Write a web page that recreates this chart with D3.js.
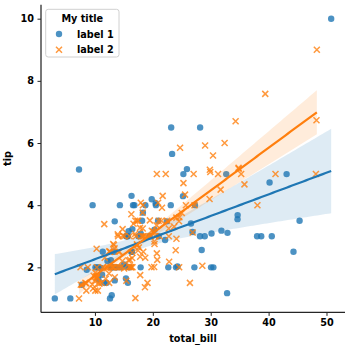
<!DOCTYPE html>
<html lang="en">
<head>
<meta charset="utf-8">
<title>tips lmplot</title>
<script src="https://cdn.jsdelivr.net/npm/d3@7"></script>
<style>
  body { margin: 0; background: #fff; }
  text { font-family: "DejaVu Sans", sans-serif; font-weight: bold; }
</style>
</head>
<body>
<script>
// label 1 (smokers)
var bill1 = [38.01,11.24,20.29,13.81,11.02,18.29,3.07,15.01,26.86,25.28,17.92,19.44,32.68,28.97,5.75,16.32,40.17,27.28,12.03,21.01,
  11.35,15.38,44.3,22.42,15.36,20.49,25.21,14.31,16.0,17.51,10.59,10.63,50.81,15.81,7.25,31.85,16.82,32.9,17.89,14.48,
  9.6,34.63,34.65,23.33,45.35,23.17,40.55,20.9,30.46,18.15,23.1,15.69,19.81,28.44,15.48,16.58,10.34,43.11,13.0,13.51,
  18.71,12.74,13.0,16.4,20.53,16.47,26.59,38.73,24.27,12.76,30.06,25.89,13.27,28.17,12.9,28.15,11.59,7.74,30.14,12.16,
  13.42,8.58,13.42,16.27,10.09,22.12,24.01,15.69,15.53,12.6,32.83,27.18,22.67];
var tip1 = [3.0,1.76,3.21,2.0,1.98,3.76,1.0,2.09,3.14,5.0,3.08,3.0,5.0,3.0,1.0,4.3,4.73,4.0,1.5,3.0,
  2.5,3.0,2.5,3.48,1.64,4.06,4.29,4.0,2.0,3.0,1.61,2.0,10.0,3.16,5.15,3.18,4.0,3.11,2.0,2.0,
  4.0,3.55,3.68,5.65,3.5,6.5,3.0,3.5,2.0,3.5,4.0,1.5,4.19,2.56,2.02,4.0,2.0,5.0,2.0,2.0,
  4.0,2.01,2.0,2.5,4.0,3.23,3.41,3.0,2.03,2.23,2.0,5.16,2.5,6.5,1.1,3.0,1.5,1.44,3.09,2.2,
  3.48,1.92,1.58,2.5,2.0,2.88,2.0,3.0,3.0,1.0,1.17,2.0,2.0];

// label 2 (non-smokers)
var bill2 = [16.99,10.34,21.01,23.68,24.59,25.29,8.77,26.88,15.04,14.78,10.27,35.26,15.42,18.43,14.83,21.58,10.33,16.29,16.97,20.65,
  17.92,20.29,15.77,39.42,19.82,17.81,13.37,12.69,21.7,19.65,9.55,18.35,15.06,20.69,17.78,24.06,16.31,16.93,18.69,31.27,
  16.04,17.46,13.94,9.68,30.4,18.29,22.23,32.4,28.55,18.04,12.54,10.29,34.81,9.94,25.56,19.49,26.41,48.27,17.59,20.08,
  16.45,20.23,12.02,17.07,14.73,10.51,27.2,22.76,17.29,16.66,10.07,15.98,34.83,13.03,18.28,24.71,21.16,22.49,22.75,12.46,
  20.92,18.24,14.0,7.25,38.07,23.95,25.71,17.31,29.93,10.65,12.43,24.08,11.69,13.42,14.26,15.95,12.48,29.8,8.52,14.52,
  11.38,22.82,19.08,20.27,11.17,12.26,18.26,8.51,10.33,14.15,13.16,17.47,34.3,41.19,27.05,16.43,8.35,18.64,11.87,9.78,
  7.51,14.07,13.13,17.26,24.55,19.77,29.85,48.17,25.0,13.39,16.49,21.5,12.66,16.21,13.81,24.52,20.76,31.71,20.69,7.56,
  48.33,15.98,20.45,13.28,11.61,10.77,10.07,35.83,29.03,17.82,18.78];
var tip2 = [1.01,1.66,3.5,3.31,3.61,4.71,2.0,3.12,1.96,3.23,1.71,5.0,1.57,3.0,3.02,3.92,1.67,3.71,3.5,3.35,
  4.08,2.75,2.23,7.58,3.18,2.34,2.0,2.0,4.3,3.0,1.45,2.5,3.0,2.45,3.27,3.6,2.0,3.07,2.31,5.0,
  2.24,2.54,3.06,1.32,5.6,3.0,5.0,6.0,2.05,3.0,2.5,2.6,5.2,1.56,4.34,3.51,1.5,6.73,2.64,3.15,
  2.47,2.01,1.97,3.0,2.2,1.25,4.0,3.0,2.71,3.4,1.83,2.03,5.17,2.0,4.0,5.85,3.0,3.5,3.25,1.5,
  4.08,3.76,3.0,1.0,4.0,2.55,4.0,3.5,5.07,1.5,1.8,2.92,2.31,1.68,2.5,2.0,2.52,4.2,1.48,2.0,
  2.0,2.18,1.5,2.83,1.5,2.0,3.25,1.25,2.0,2.0,2.75,3.5,6.7,5.0,5.0,2.3,1.5,1.36,1.63,1.73,
  2.0,2.5,2.0,2.74,2.0,2.0,5.14,5.0,3.75,2.61,2.0,3.5,2.5,2.0,2.0,3.48,2.24,4.5,5.0,1.44,
  9.0,3.0,3.0,2.72,3.39,1.47,1.25,4.67,5.92,1.75,3.0];

var xTicks = [10, 20, 30, 40, 50];
var yTicks = [2, 4, 6, 8, 10];
var labels = ["label 1", "label 2"];
var colors = ["#1f77b4", "#ff7f0e"];

var w = 349, h = 347;
var pLeft = 41, pRight = 345, pTop = 4.7, pBottom = 312.4;
var fs = "9.7px";

var allX = bill1.concat(bill2), allY = tip1.concat(tip2);
var xExt = d3.extent(allX), yExt = d3.extent(allY);
var xPad = (xExt[1] - xExt[0]) * 0.05, yPad = (yExt[1] - yExt[0]) * 0.05;

var x = d3.scaleLinear().domain([xExt[0] - xPad, xExt[1] + xPad]).range([pLeft, pRight]);
var y = d3.scaleLinear().domain([yExt[0] - yPad, yExt[1] + yPad]).range([pBottom, pTop]);

var svg = d3.select("body").append("svg").attr("width", w).attr("height", h);

// OLS fit; 95% band from a robust (sandwich) variance, close to a pairs bootstrap
function fit(xs, ys) {
  var n = xs.length, mx = d3.mean(xs), my = d3.mean(ys);
  var sxx = d3.sum(xs, function(v) { return (v - mx) * (v - mx); });
  var sxy = d3.sum(xs, function(v, i) { return (v - mx) * (ys[i] - my); });
  var b = sxy / sxx, a = my - b * mx;
  var e2 = xs.map(function(v, i) { var r = ys[i] - (a + b * v); return r * r; });
  var k = n / (n - 2);
  var vA = k * d3.sum(e2) / (n * n);
  var vB = k * d3.sum(xs, function(v, i) { return (v - mx) * (v - mx) * e2[i]; }) / (sxx * sxx);
  var cAB = k * d3.sum(xs, function(v, i) { return (v - mx) * e2[i]; }) / (n * sxx);
  var ext = d3.extent(xs);
  var grid = d3.range(100).map(function(i) { return ext[0] + (ext[1] - ext[0]) * i / 99; });
  return grid.map(function(g) {
    var d = g - mx, yh = my + b * d;
    var se = 1.96 * Math.sqrt(vA + d * d * vB + 2 * d * cAB);
    return { x: g, y: yh, lo: yh - se, hi: yh + se };
  });
}

var groups = [
  { xs: bill1, ys: tip1, color: colors[0], marker: "o" },
  { xs: bill2, ys: tip2, color: colors[1], marker: "x" }
];

var area = d3.area().x(function(d) { return x(d.x); })
  .y0(function(d) { return y(d.lo); }).y1(function(d) { return y(d.hi); });
var line = d3.line().x(function(d) { return x(d.x); }).y(function(d) { return y(d.y); });

var fits = groups.map(function(g) { return fit(g.xs, g.ys); });

groups.forEach(function(g, gi) {
  var pts = g.xs.map(function(v, i) { return [v, g.ys[i]]; });
  if (g.marker === "o") {
    svg.append("g").selectAll("circle").data(pts).enter().append("circle")
      .attr("cx", function(d) { return x(d[0]); })
      .attr("cy", function(d) { return y(d[1]); })
      .attr("r", 3.2)
      .attr("fill", g.color).attr("fill-opacity", 0.8);
  } else {
    svg.append("g").selectAll("path").data(pts).enter().append("path")
      .attr("d", function(d) {
        var cx = x(d[0]), cy = y(d[1]), r = 3;
        return "M" + (cx - r) + "," + (cy - r) + "L" + (cx + r) + "," + (cy + r) +
          "M" + (cx - r) + "," + (cy + r) + "L" + (cx + r) + "," + (cy - r);
      })
      .attr("stroke", g.color).attr("stroke-opacity", 0.8)
      .attr("stroke-width", 1.5).attr("fill", "none");
  }
  svg.append("path").datum(fits[gi]).attr("d", area)
    .attr("fill", g.color).attr("fill-opacity", 0.15);
});

groups.forEach(function(g, gi) {
  svg.append("path").datum(fits[gi]).attr("d", line)
    .attr("fill", "none").attr("stroke", g.color).attr("stroke-width", 2.2);
});

// axes
var xAxis = svg.append("g").attr("transform", "translate(0," + pBottom + ")")
  .call(d3.axisBottom(x).tickValues(xTicks).tickSizeOuter(0).tickSize(3.5).tickPadding(3.5));
var yAxis = svg.append("g").attr("transform", "translate(" + pLeft + ",0)")
  .call(d3.axisLeft(y).tickValues(yTicks).tickSizeOuter(0).tickSize(3.5).tickPadding(3.5));
[xAxis, yAxis].forEach(function(ax) {
  ax.select(".domain").attr("stroke", "#262626").attr("stroke-width", 1.25);
  ax.selectAll(".tick line").attr("stroke", "#262626").attr("stroke-width", 1);
  ax.selectAll(".tick text").attr("font-size", fs).attr("font-weight", "bold")
    .attr("font-family", "DejaVu Sans").attr("fill", "#000");
});
xAxis.select(".domain").attr("d", "M" + pLeft + ",0H" + pRight);
yAxis.select(".domain").attr("d", "M0," + pBottom + "V" + pTop);

svg.append("text").attr("x", (pLeft + pRight) / 2).attr("y", 341.5)
  .attr("text-anchor", "middle").attr("font-size", fs).text("total_bill");
svg.append("text").attr("transform", "translate(11," + ((pTop + pBottom) / 2) + ") rotate(-90)")
  .attr("text-anchor", "middle").attr("font-size", fs).text("tip");

// legend
var lg = svg.append("g");
lg.append("rect").attr("x", 45.7).attr("y", 9.3).attr("width", 73.3).attr("height", 47.7)
  .attr("rx", 2.5).attr("fill", "#fff").attr("fill-opacity", 0.8)
  .attr("stroke", "#d0d0d0").attr("stroke-width", 1);
lg.append("text").attr("x", 82.3).attr("y", 21.5).attr("text-anchor", "middle")
  .attr("font-size", fs).text("My title");
lg.append("circle").attr("cx", 59).attr("cy", 34).attr("r", 3.2)
  .attr("fill", colors[0]).attr("fill-opacity", 0.8);
lg.append("path").attr("d", "M56,46.7L62,52.7M56,52.7L62,46.7")
  .attr("stroke", colors[1]).attr("stroke-opacity", 0.8).attr("stroke-width", 1.5);
lg.selectAll("text.lab").data(labels).enter().append("text").attr("class", "lab")
  .attr("x", 77).attr("y", function(d, i) { return 37.5 + i * 15.5; })
  .attr("font-size", fs).text(function(d) { return d; });
</script>
</body>
</html>
